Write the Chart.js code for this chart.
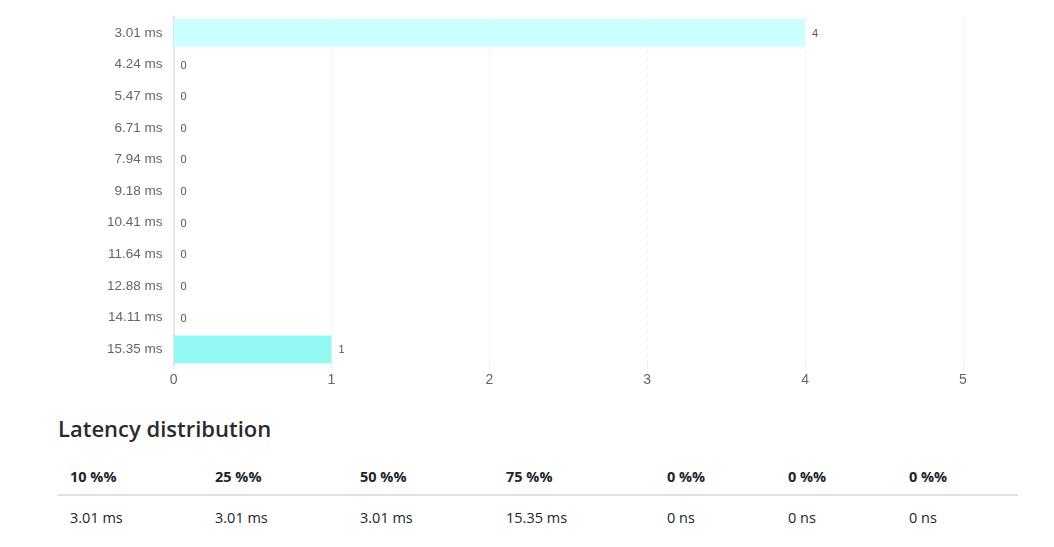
<!DOCTYPE html>
<html><head><meta charset="utf-8">
<script src="https://cdn.jsdelivr.net/npm/chart.js@4/dist/chart.umd.min.js"></script>
<style>
body{margin:0;background:#fff;font-family:"Open Sans","Noto Sans",sans-serif;color:#212529}
#wrap{position:absolute;left:0;top:0;width:1000px;height:392px}
h2{position:absolute;left:58px;top:413px;margin:0;font-size:22px;font-weight:600;color:#2b2b2b}
table{position:absolute;left:58px;top:459px;width:960px;border-collapse:collapse;font-size:14.5px;table-layout:fixed}
th,td{box-sizing:border-box}
th{text-align:left;font-weight:700;padding:8px 12px;border-bottom:2px solid #dee2e6}
td{padding:12px 12px;}
</style></head><body>
<div id="wrap"><canvas id="c"></canvas></div>
<h2>Latency distribution</h2>
<table id="t"><thead><tr></tr></thead><tbody><tr></tr></tbody></table>
<script>
const categories=["3.01 ms","4.24 ms","5.47 ms","6.71 ms","7.94 ms","9.18 ms","10.41 ms","11.64 ms","12.88 ms","14.11 ms","15.35 ms"];
const counts=[4,0,0,0,0,0,0,0,0,0,1];
const barColors=["#ccffff","#c4fcfb","#bcfbf9","#b4faf7","#acf9f5","#a4f9f4","#a0f8f3","#9cf8f3","#98f8f2","#96f8f2","#94f8f2"];
const pctLabels=["10 %%","25 %%","50 %%","75 %%","0 %%","0 %%","0 %%"];
const pctValues=["3.01 ms","3.01 ms","3.01 ms","15.35 ms","0 ns","0 ns","0 ns"];
const colW=[145,145,146,161,121,121,121];
const hr=document.querySelector('#t thead tr'),br=document.querySelector('#t tbody tr');
pctLabels.forEach((l,i)=>{const th=document.createElement('th');th.textContent=l;th.style.width=colW[i]+'px';hr.appendChild(th);
const td=document.createElement('td');td.textContent=pctValues[i];br.appendChild(td);});
const valuePlugin={id:'vals',afterDatasetsDraw(ch){const ctx=ch.ctx;const meta=ch.getDatasetMeta(0);
ctx.save();ctx.font='11px "Liberation Sans",Arial,sans-serif';ctx.fillStyle='#555';ctx.textBaseline='middle';
meta.data.forEach((b,i)=>{ctx.fillText(String(counts[i]),b.x+7,b.y+1);});ctx.restore();}};
new Chart(document.getElementById('c'),{type:'bar',
data:{labels:categories,datasets:[{data:counts,backgroundColor:barColors,categoryPercentage:0.9,barPercentage:0.97}]},
options:{indexAxis:'y',responsive:true,maintainAspectRatio:false,animation:false,
layout:{padding:{top:17,right:37,left:104,bottom:0}},
plugins:{legend:{display:false},tooltip:{enabled:false}},
scales:{x:{min:0,max:5,ticks:{stepSize:1,color:'#666',font:{size:14,family:'"Liberation Sans",Arial,sans-serif'}},
grid:{color:'#eeeeee',tickLength:4,lineWidth:1},border:{dash:[4,4],display:false}},
y:{ticks:{color:'#666',font:{size:13.5,family:'"Liberation Sans",Arial,sans-serif'}},grid:{display:false},border:{display:true,color:'#e4e6ee',width:2}}}},
plugins:[valuePlugin]});
</script></body></html>
